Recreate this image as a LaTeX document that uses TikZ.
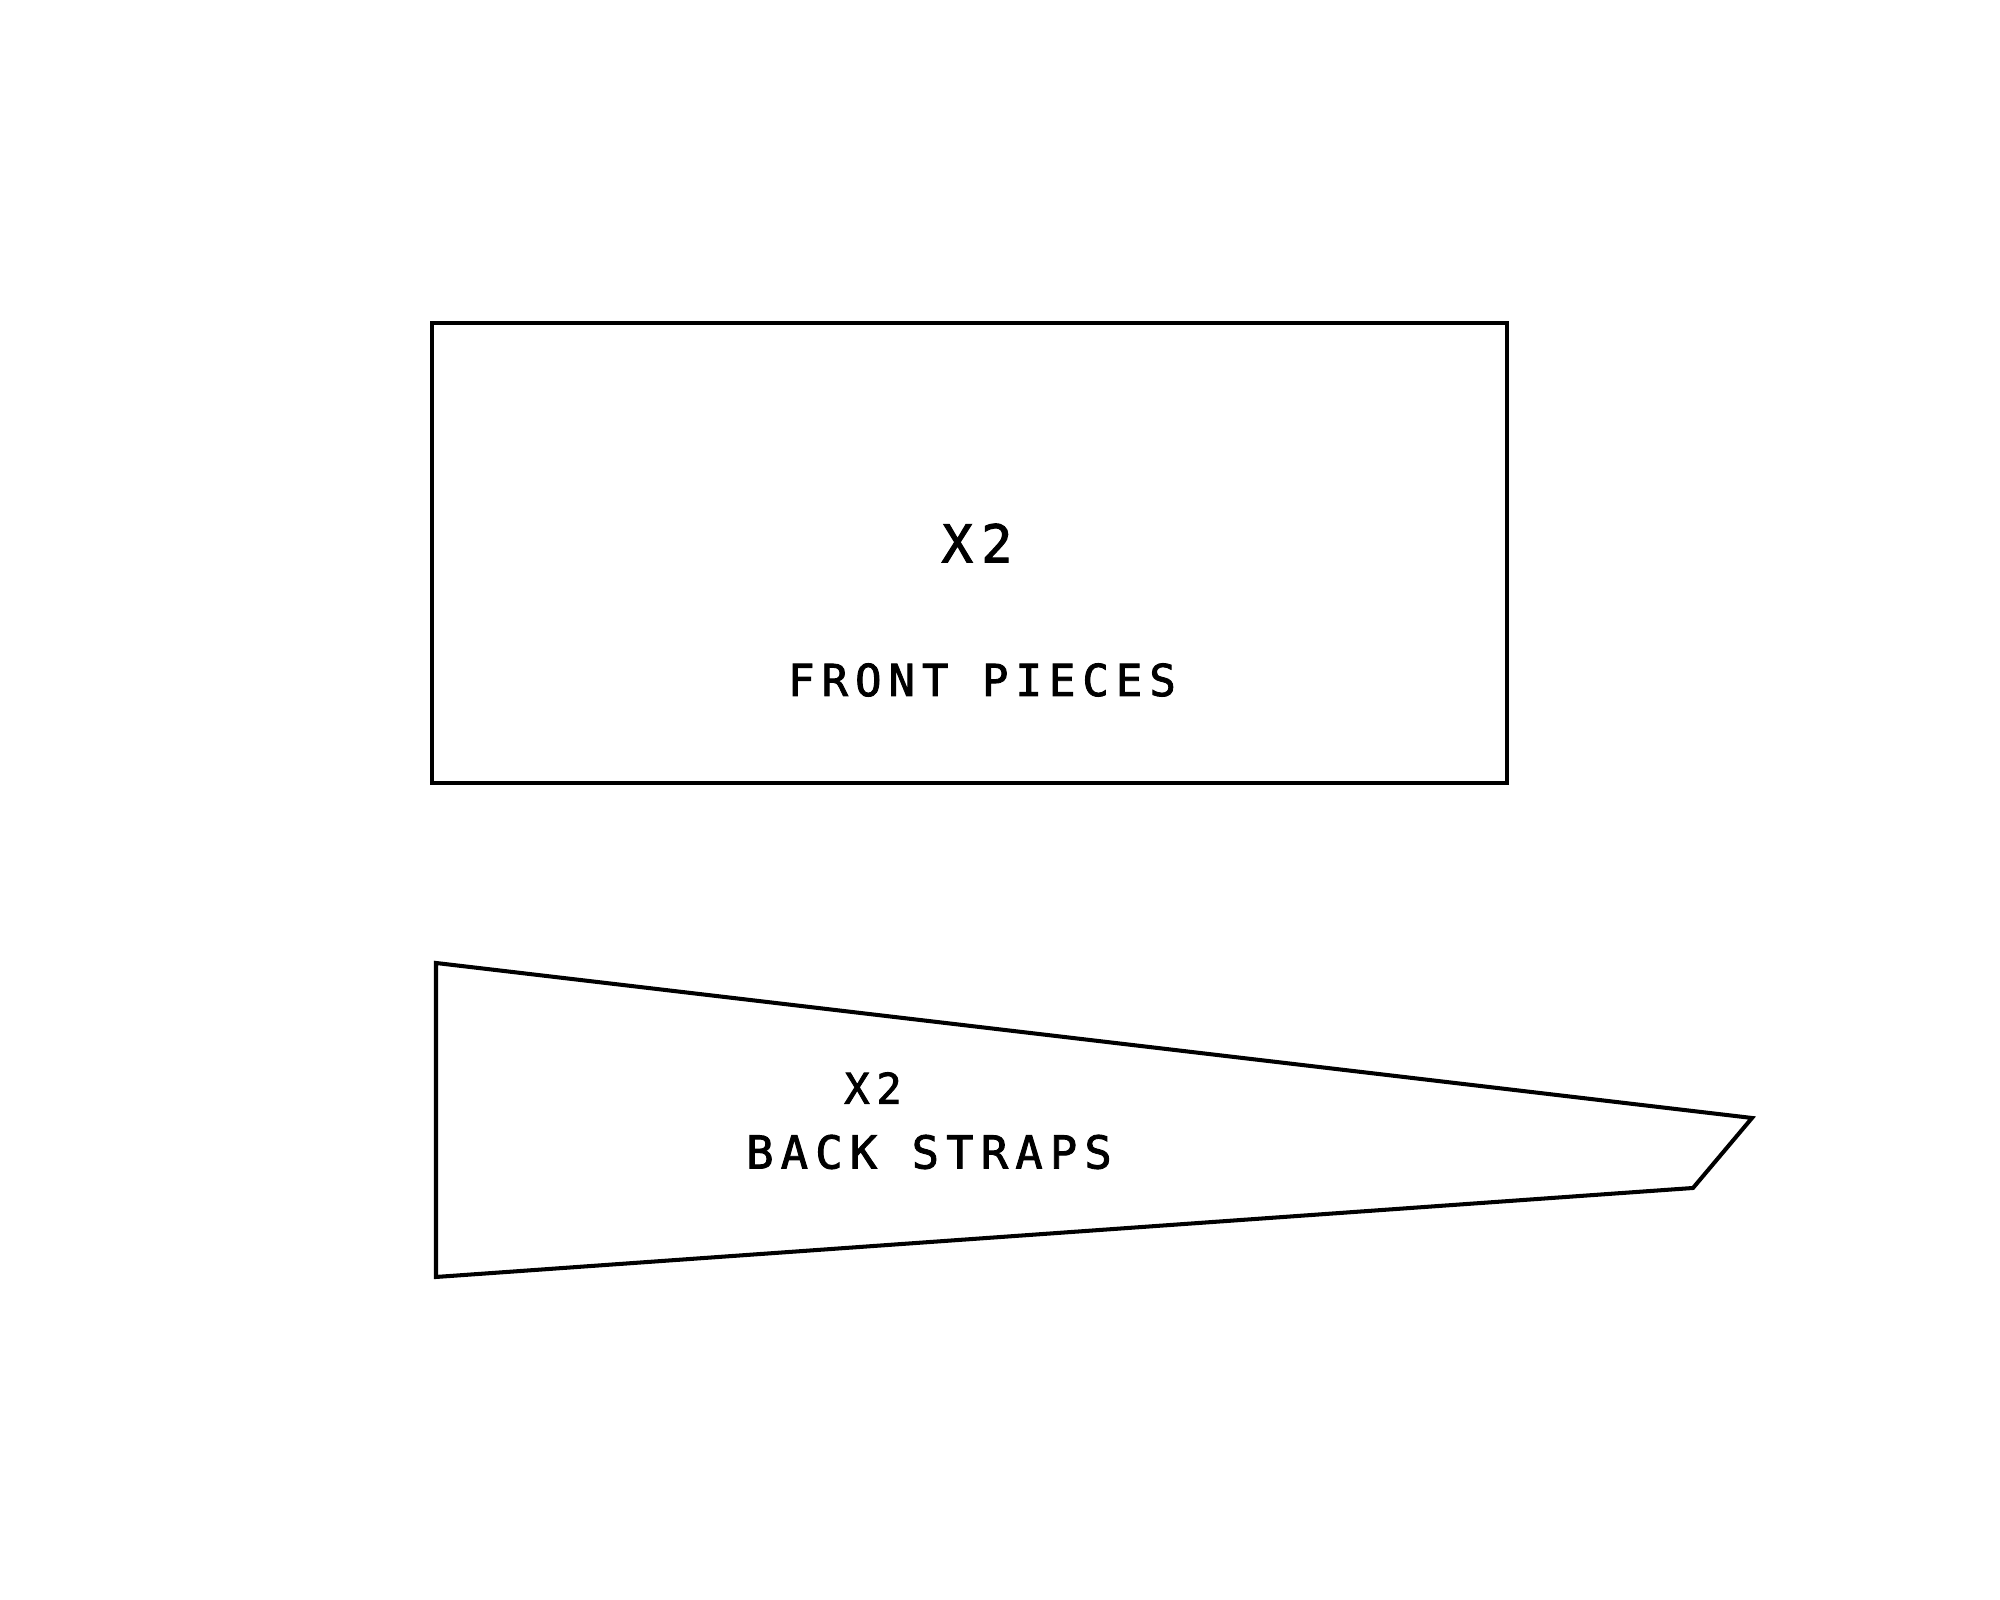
\documentclass[tikz,border=0pt]{standalone}
\usepackage{fontspec}
\usepackage{tikz}
\newfontfamily\piecefont[LetterSpace=16,RawFeature={embolden=2}]{DejaVu Sans Mono}

\begin{document}
\begin{tikzpicture}[piece/.style={draw, line width=1.3pt, line join=miter},
                    lbl/.style={inner sep=0pt, font=\piecefont}]
      \useasboundingbox (0,0) rectangle (20,16);
      % front piece
      \node[name=front, piece, minimum width=10.75cm, minimum height=4.6cm, inner sep=0pt] at (9.695,10.47){};
      \node[name=frontcount, lbl, font=\piecefont\fontsize{14.8}{16}\selectfont] at (9.77,10.57){X2};
      \node[name=fronttitle, lbl, font=\piecefont\fontsize{12.5}{14}\selectfont] at (9.82,9.20){FRONT PIECES};
      % back strap
      \coordinate (s1) at (4.36,6.37);
      \coordinate (s2) at (17.52,4.82);
      \coordinate (s3) at (16.93,4.12);
      \coordinate (s4) at (4.36,3.23);
      \draw[piece, line width=1.15pt] (s1) -- (s2) -- (s3) -- (s4) -- cycle;
      \node[name=backcount, lbl, font=\piecefont\fontsize{12}{14}\selectfont] at (8.73,5.12){X2};
      \node[name=backtitle, lbl, font=\piecefont\fontsize{12.9}{14}\selectfont] at (9.29,4.48){BACK STRAPS};
   \end{tikzpicture}
\end{document}
